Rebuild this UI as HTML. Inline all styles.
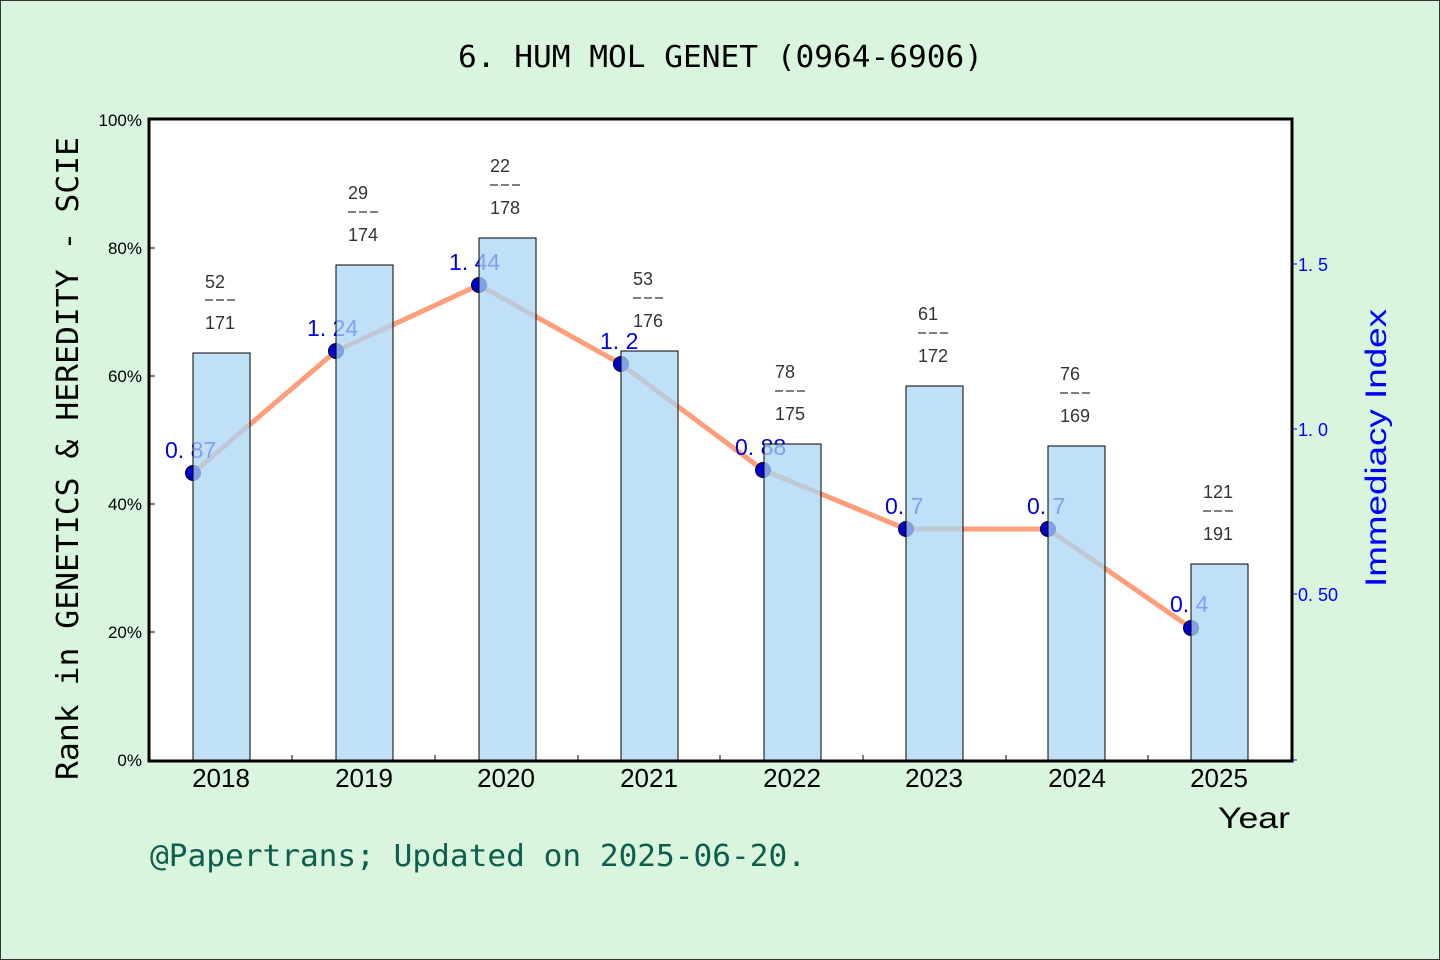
<!DOCTYPE html>
<html><head><meta charset="utf-8"><style>
html,body{margin:0;padding:0;background:#d9f5de;}
svg{display:block;}
text{font-family:"Liberation Sans",sans-serif;}
.m{font-family:"DejaVu Sans Mono","Liberation Mono",monospace;}
</style></head><body>
<svg width="1440" height="960" xmlns="http://www.w3.org/2000/svg">
<rect x="0.5" y="0.5" width="1439" height="959" fill="#d9f5de" stroke="#333" stroke-width="1"/>
<text class="m" x="458" y="67" font-size="30" textLength="525" lengthAdjust="spacingAndGlyphs" fill="#000">6. HUM MOL GENET (0964-6906)</text>
<rect x="149" y="119" width="1143" height="642" fill="#fff"/>
<polyline points="193,473 336,351 479,285 621,364 763,470 906,529 1048,529 1191,628" fill="none" stroke="#ff9e7a" stroke-width="5"/>
<g fill="#0000cc" stroke="#000" stroke-width="1">
<circle cx="193" cy="473" r="7.5"/><circle cx="336" cy="351" r="7.5"/><circle cx="479" cy="285" r="7.5"/><circle cx="621" cy="364" r="7.5"/><circle cx="763" cy="470" r="7.5"/><circle cx="906" cy="529" r="7.5"/><circle cx="1048" cy="529" r="7.5"/><circle cx="1191" cy="628" r="7.5"/>
</g>
<g class="m" fill="#0000dd" font-size="23">
<text x="165" y="458">0. 87</text><text x="307" y="336">1. 24</text><text x="449" y="270">1. 44</text><text x="600" y="349">1. 2</text><text x="735" y="455">0. 88</text><text x="885" y="514">0. 7</text><text x="1027" y="514">0. 7</text><text x="1170" y="612">0. 4</text>
</g>
<g fill="rgba(171,214,244,0.75)" stroke="#000" stroke-width="1">
<rect x="193" y="353" width="57" height="408"/>
<rect x="336" y="265" width="57" height="496"/>
<rect x="479" y="238" width="57" height="523"/>
<rect x="621" y="351" width="57" height="410"/>
<rect x="764" y="444" width="57" height="317"/>
<rect x="906" y="386" width="57" height="375"/>
<rect x="1048" y="446" width="57" height="315"/>
<rect x="1191" y="564" width="57" height="197"/>
</g>
<g fill="#333" font-size="18">
<text x="205" y="288">52</text><text x="205" y="329">171</text>
<text x="348" y="199">29</text><text x="348" y="241">174</text>
<text x="490" y="172">22</text><text x="490" y="214">178</text>
<text x="633" y="285">53</text><text x="633" y="327">176</text>
<text x="775" y="378">78</text><text x="775" y="420">175</text>
<text x="918" y="320">61</text><text x="918" y="362">172</text>
<text x="1060" y="380">76</text><text x="1060" y="422">169</text>
<text x="1203" y="498">121</text><text x="1203" y="540">191</text>
</g>
<g stroke="#555" stroke-width="1.5" stroke-dasharray="8,3">
<line x1="205" y1="300" x2="237" y2="300"/><line x1="348" y1="212" x2="380" y2="212"/><line x1="490" y1="185" x2="522" y2="185"/><line x1="633" y1="298" x2="665" y2="298"/><line x1="775" y1="391" x2="807" y2="391"/><line x1="918" y1="333" x2="950" y2="333"/><line x1="1060" y1="393" x2="1092" y2="393"/><line x1="1203" y1="511" x2="1235" y2="511"/>
</g>
<rect x="149" y="119" width="1143" height="642" fill="none" stroke="#000" stroke-width="3"/>
<g stroke="#000" stroke-width="1">
<line x1="150" y1="248" x2="155" y2="248"/><line x1="150" y1="376" x2="155" y2="376"/><line x1="150" y1="504" x2="155" y2="504"/><line x1="150" y1="632" x2="155" y2="632"/>
<line x1="292" y1="760" x2="292" y2="755"/><line x1="435" y1="760" x2="435" y2="755"/><line x1="578" y1="760" x2="578" y2="755"/><line x1="720" y1="760" x2="720" y2="755"/><line x1="863" y1="760" x2="863" y2="755"/><line x1="1006" y1="760" x2="1006" y2="755"/><line x1="1148" y1="760" x2="1148" y2="755"/>
</g>
<g fill="#000" font-size="17" text-anchor="end">
<text x="142" y="126">100%</text><text x="142" y="254">80%</text><text x="142" y="382">60%</text><text x="142" y="510">40%</text><text x="142" y="638">20%</text><text x="142" y="766">0%</text>
</g>
<g stroke="#0000ff" stroke-width="1"><line x1="1293" y1="264" x2="1297" y2="264"/><line x1="1293" y1="429" x2="1297" y2="429"/><line x1="1293" y1="594" x2="1297" y2="594"/><line x1="1293" y1="760" x2="1297" y2="760"/></g>
<g class="m" fill="#0000ff" font-size="18"><text x="1298" y="271">1. 5</text><text x="1298" y="436">1. 0</text><text x="1298" y="601">0. 50</text></g>
<g fill="#000" font-size="26" text-anchor="middle">
<text x="221" y="787">2018</text><text x="364" y="787">2019</text><text x="506" y="787">2020</text><text x="649" y="787">2021</text><text x="792" y="787">2022</text><text x="934" y="787">2023</text><text x="1077" y="787">2024</text><text x="1219" y="787">2025</text>
</g>
<text x="1290" y="828" font-size="30" text-anchor="end" fill="#000" textLength="72" lengthAdjust="spacingAndGlyphs">Year</text>
<text class="m" transform="translate(78,780) rotate(-90)" font-size="30" textLength="643" lengthAdjust="spacingAndGlyphs" fill="#000">Rank in GENETICS &amp; HEREDITY - SCIE</text>
<text transform="translate(1386,587) rotate(-90)" font-size="30" textLength="278" lengthAdjust="spacingAndGlyphs" fill="#0000ff">Immediacy Index</text>
<text class="m" x="150" y="866" font-size="30" textLength="656" lengthAdjust="spacingAndGlyphs" fill="#0e5e4e">@Papertrans; Updated on 2025-06-20.</text>
</svg>
</body></html>
